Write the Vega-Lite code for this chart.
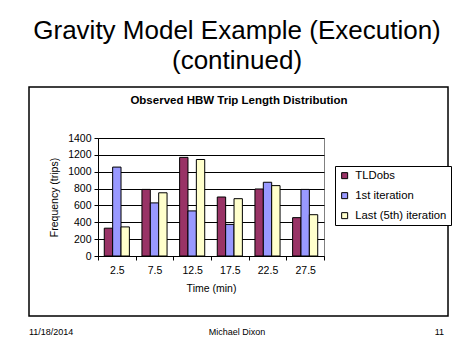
{
  "$schema": "https://vega.github.io/schema/vega-lite/v6.json",
  "autosize": "none",
  "width": 226,
  "height": 118,
  "padding": {"left": 98, "top": 138, "right": 150, "bottom": 99},
  "background": "white",
  "config": {
    "font": "Liberation Sans",
    "view": {"stroke": "#808080", "strokeWidth": 1},
    "axis": {
      "labelColor": "black",
      "titleColor": "black",
      "labelFontSize": 10.5,
      "titleFontSize": 10.5,
      "titleFontWeight": "normal",
      "domainColor": "black",
      "tickColor": "black",
      "tickSize": 4
    }
  },
  "title": {
    "text": ["Gravity Model Example (Execution)", "(continued)"],
    "fontSize": 26,
    "fontWeight": "normal",
    "color": "black",
    "lineHeight": 30,
    "anchor": "middle",
    "frame": "group",
    "dx": 26,
    "offset": 12
  },
  "resolve": {"scale": {"x": "independent", "y": "independent"}},
  "layer": [
    {
      "description": "Chart box, inner heading and slide footer, placed on a unit scale spanning the plot area",
      "data": {"values": [{}]},
      "layer": [
        {
          "mark": {"type": "rect", "fill": "transparent", "stroke": "black", "strokeWidth": 1.5, "clip": false},
          "encoding": {
            "x": {"datum": -0.3053, "type": "quantitative", "scale": {"domain": [0, 1], "zero": false, "nice": false}, "axis": null},
            "x2": {"datum": 1.5487},
            "y": {"datum": 1.4322, "type": "quantitative", "scale": {"domain": [0, 1], "zero": false, "nice": false}, "axis": null},
            "y2": {"datum": -0.5085}
          }
        },
        {
          "mark": {"type": "text", "text": "Observed HBW Trip Length Distribution", "fontSize": 11.5, "fontWeight": "bold", "color": "black", "align": "center", "baseline": "middle", "clip": false},
          "encoding": {
            "x": {"datum": 0.6239, "type": "quantitative", "axis": null},
            "y": {"datum": 1.316, "type": "quantitative", "axis": null}
          }
        },
        {
          "mark": {"type": "text", "text": "11/18/2014", "fontSize": 9, "color": "black", "align": "left", "baseline": "middle", "clip": false},
          "encoding": {
            "x": {"datum": -0.3053, "type": "quantitative", "axis": null},
            "y": {"datum": -0.6415, "type": "quantitative", "axis": null}
          }
        },
        {
          "mark": {"type": "text", "text": "Michael Dixon", "fontSize": 9, "color": "black", "align": "center", "baseline": "middle", "clip": false},
          "encoding": {
            "x": {"datum": 0.615, "type": "quantitative", "axis": null},
            "y": {"datum": -0.6415, "type": "quantitative", "axis": null}
          }
        },
        {
          "mark": {"type": "text", "text": "11", "fontSize": 9, "color": "black", "align": "right", "baseline": "middle", "clip": false},
          "encoding": {
            "x": {"datum": 1.531, "type": "quantitative", "axis": null},
            "y": {"datum": -0.6415, "type": "quantitative", "axis": null}
          }
        }
      ]
    },
    {
      "description": "Grouped bars: observed trip length distribution vs. model iterations",
      "data": {
        "values": [
          {"time": 2.5, "series": "TLDobs", "trips": 330},
          {"time": 2.5, "series": "1st iteration", "trips": 1055},
          {"time": 2.5, "series": "Last (5th) iteration", "trips": 345},
          {"time": 7.5, "series": "TLDobs", "trips": 790},
          {"time": 7.5, "series": "1st iteration", "trips": 630},
          {"time": 7.5, "series": "Last (5th) iteration", "trips": 750},
          {"time": 12.5, "series": "TLDobs", "trips": 1170},
          {"time": 12.5, "series": "1st iteration", "trips": 535},
          {"time": 12.5, "series": "Last (5th) iteration", "trips": 1145},
          {"time": 17.5, "series": "TLDobs", "trips": 700},
          {"time": 17.5, "series": "1st iteration", "trips": 375},
          {"time": 17.5, "series": "Last (5th) iteration", "trips": 680},
          {"time": 22.5, "series": "TLDobs", "trips": 795},
          {"time": 22.5, "series": "1st iteration", "trips": 875},
          {"time": 22.5, "series": "Last (5th) iteration", "trips": 835},
          {"time": 27.5, "series": "TLDobs", "trips": 455},
          {"time": 27.5, "series": "1st iteration", "trips": 790},
          {"time": 27.5, "series": "Last (5th) iteration", "trips": 490}
        ]
      },
      "mark": {"type": "bar", "stroke": "black", "strokeWidth": 1},
      "encoding": {
        "x": {
          "field": "time",
          "type": "ordinal",
          "scale": {"paddingInner": 0, "paddingOuter": 0},
          "axis": {
            "title": "Time (min)",
            "labelAngle": 0,
            "tickBand": "extent",
            "labelPadding": 5,
            "titlePadding": 8
          }
        },
        "xOffset": {
          "field": "series",
          "type": "nominal",
          "sort": ["TLDobs", "1st iteration", "Last (5th) iteration"],
          "scale": {"paddingInner": 0, "paddingOuter": 0.75}
        },
        "y": {
          "field": "trips",
          "type": "quantitative",
          "scale": {"domain": [0, 1400], "nice": false},
          "axis": {
            "title": "Frequency (trips)",
            "values": [0, 200, 400, 600, 800, 1000, 1200, 1400],
            "format": "d",
            "grid": true,
            "gridColor": "black",
            "gridWidth": 1,
            "gridOpacity": 1,
            "labelPadding": 3,
            "titlePadding": 8
          }
        },
        "color": {
          "field": "series",
          "type": "nominal",
          "sort": ["TLDobs", "1st iteration", "Last (5th) iteration"],
          "scale": {
            "domain": ["TLDobs", "1st iteration", "Last (5th) iteration"],
            "range": ["#993366", "#9999FF", "#FFFFCC"]
          },
          "legend": {
            "title": null,
            "orient": "none",
            "legendX": 237,
            "legendY": 28,
            "padding": 4,
            "strokeColor": "black",
            "fillColor": "white",
            "symbolType": "square",
            "symbolSize": 36,
            "symbolStrokeColor": "black",
            "symbolStrokeWidth": 1,
            "labelFontSize": 11.3,
            "labelColor": "black",
            "labelOffset": 5,
            "rowPadding": 8
          }
        }
      }
    }
  ]
}
